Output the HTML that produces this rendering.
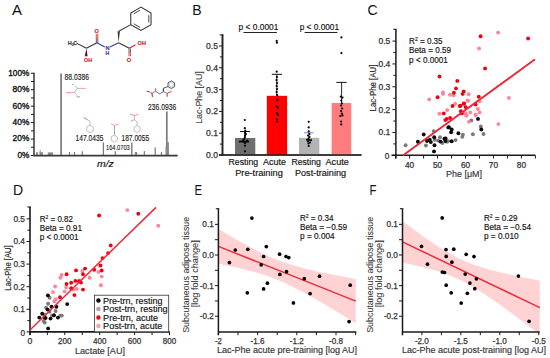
<!DOCTYPE html>
<html><head><meta charset="utf-8"><style>
html,body{margin:0;padding:0;background:#fff;width:550px;height:358px;overflow:hidden}
svg{display:block;font-family:"Liberation Sans", sans-serif}
</style></head><body>
<svg width="550" height="358" viewBox="0 0 550 358">
<rect width="550" height="358" fill="#fff"/>
<text x="12.00" y="15.00" font-size="15" text-anchor="start" fill="#111">A</text>
<text x="192.20" y="15.00" font-size="14" text-anchor="start" fill="#111">B</text>
<text x="367.50" y="15.00" font-size="14" text-anchor="start" fill="#111">C</text>
<text x="13.00" y="195.00" font-size="14" text-anchor="start" fill="#111">D</text>
<text x="194.50" y="195.00" font-size="14" text-anchor="start" fill="#111" textLength="7.6" lengthAdjust="spacingAndGlyphs">E</text>
<text x="369.50" y="195.00" font-size="14" text-anchor="start" fill="#111" textLength="7.0" lengthAdjust="spacingAndGlyphs">F</text>
<line x1="34.00" y1="72.80" x2="34.00" y2="156.10" stroke="#1a1a1a" stroke-width="1.3"/>
<line x1="30.80" y1="155.50" x2="34.00" y2="155.50" stroke="#1a1a1a" stroke-width="1.0"/>
<text x="29.40" y="157.90" font-size="8.6" text-anchor="end" fill="#111" stroke="#111" stroke-width="0.35" textLength="12.0" lengthAdjust="spacingAndGlyphs">0%</text>
<line x1="30.80" y1="139.05" x2="34.00" y2="139.05" stroke="#1a1a1a" stroke-width="1.0"/>
<text x="29.40" y="141.45" font-size="8.6" text-anchor="end" fill="#111" stroke="#111" stroke-width="0.35" textLength="16.8" lengthAdjust="spacingAndGlyphs">20%</text>
<line x1="30.80" y1="122.60" x2="34.00" y2="122.60" stroke="#1a1a1a" stroke-width="1.0"/>
<text x="29.40" y="125.00" font-size="8.6" text-anchor="end" fill="#111" stroke="#111" stroke-width="0.35" textLength="16.8" lengthAdjust="spacingAndGlyphs">40%</text>
<line x1="30.80" y1="106.15" x2="34.00" y2="106.15" stroke="#1a1a1a" stroke-width="1.0"/>
<text x="29.40" y="108.55" font-size="8.6" text-anchor="end" fill="#111" stroke="#111" stroke-width="0.35" textLength="16.8" lengthAdjust="spacingAndGlyphs">60%</text>
<line x1="30.80" y1="89.70" x2="34.00" y2="89.70" stroke="#1a1a1a" stroke-width="1.0"/>
<text x="29.40" y="92.10" font-size="8.6" text-anchor="end" fill="#111" stroke="#111" stroke-width="0.35" textLength="16.8" lengthAdjust="spacingAndGlyphs">80%</text>
<line x1="30.80" y1="73.25" x2="34.00" y2="73.25" stroke="#1a1a1a" stroke-width="1.0"/>
<text x="29.40" y="75.65" font-size="8.6" text-anchor="end" fill="#111" stroke="#111" stroke-width="0.35" textLength="21.2" lengthAdjust="spacingAndGlyphs">100%</text>
<line x1="31.00" y1="147.28" x2="34.00" y2="147.28" stroke="#1a1a1a" stroke-width="1.0"/>
<line x1="31.00" y1="130.82" x2="34.00" y2="130.82" stroke="#1a1a1a" stroke-width="1.0"/>
<line x1="31.00" y1="114.38" x2="34.00" y2="114.38" stroke="#1a1a1a" stroke-width="1.0"/>
<line x1="31.00" y1="97.93" x2="34.00" y2="97.93" stroke="#1a1a1a" stroke-width="1.0"/>
<line x1="31.00" y1="81.48" x2="34.00" y2="81.48" stroke="#1a1a1a" stroke-width="1.0"/>
<line x1="40.20" y1="155.50" x2="40.20" y2="150.00" stroke="#7a7a7a" stroke-width="0.9"/>
<line x1="61.10" y1="155.50" x2="61.10" y2="73.40" stroke="#7a7a7a" stroke-width="1.7"/>
<line x1="69.50" y1="155.50" x2="69.50" y2="152.00" stroke="#7a7a7a" stroke-width="1.2"/>
<line x1="74.50" y1="155.50" x2="74.50" y2="152.00" stroke="#7a7a7a" stroke-width="1.2"/>
<line x1="82.30" y1="155.50" x2="82.30" y2="151.20" stroke="#7a7a7a" stroke-width="1.2"/>
<line x1="103.40" y1="155.50" x2="103.40" y2="142.40" stroke="#7a7a7a" stroke-width="1.3"/>
<line x1="115.30" y1="155.50" x2="115.30" y2="151.30" stroke="#7a7a7a" stroke-width="1.2"/>
<line x1="131.80" y1="155.50" x2="131.80" y2="142.60" stroke="#7a7a7a" stroke-width="1.4"/>
<line x1="144.30" y1="155.50" x2="144.30" y2="151.10" stroke="#7a7a7a" stroke-width="1.2"/>
<line x1="155.20" y1="155.50" x2="155.20" y2="147.60" stroke="#7a7a7a" stroke-width="1.2"/>
<line x1="161.50" y1="155.50" x2="161.50" y2="152.20" stroke="#7a7a7a" stroke-width="1.2"/>
<line x1="166.80" y1="155.50" x2="166.80" y2="111.50" stroke="#7a7a7a" stroke-width="1.7"/>
<rect x="36.10" y="152.20" width="1.90" height="3.30" fill="#8a8a8a"/>
<rect x="39.60" y="152.20" width="3.30" height="3.30" fill="#8a8a8a"/>
<rect x="47.80" y="152.40" width="5.20" height="3.10" fill="#8a8a8a"/>
<rect x="134.80" y="152.00" width="2.40" height="3.50" fill="#8a8a8a"/>
<rect x="165.50" y="146.80" width="3.00" height="8.70" fill="#8a8a8a"/>
<rect x="166.80" y="142.20" width="2.10" height="13.30" fill="#8a8a8a"/>
<line x1="33.40" y1="155.70" x2="177.70" y2="155.70" stroke="#3a3a3a" stroke-width="1.7"/>
<text x="64.50" y="79.70" font-size="8.6" text-anchor="start" fill="#111" stroke="#111" stroke-width="0.12" textLength="24.4" lengthAdjust="spacingAndGlyphs">88.0386</text>
<text x="75.50" y="140.80" font-size="8.6" text-anchor="start" fill="#111" stroke="#111" stroke-width="0.12" textLength="28.0" lengthAdjust="spacingAndGlyphs">147.0435</text>
<text x="106.00" y="150.30" font-size="7.8" text-anchor="start" fill="#111" stroke="#111" stroke-width="0.1" textLength="23.8" lengthAdjust="spacingAndGlyphs">164.0703</text>
<text x="121.50" y="141.20" font-size="8.6" text-anchor="start" fill="#111" stroke="#111" stroke-width="0.12" textLength="27.6" lengthAdjust="spacingAndGlyphs">187.0055</text>
<text x="148.00" y="109.60" font-size="8.6" text-anchor="start" fill="#111" stroke="#111" stroke-width="0.12" textLength="28.2" lengthAdjust="spacingAndGlyphs">236.0936</text>
<text x="97.00" y="166.60" font-size="9.2" text-anchor="start" fill="#111" stroke="#111" stroke-width="0.15" font-style="italic" textLength="16.8" lengthAdjust="spacingAndGlyphs">m/z</text>
<line x1="72.00" y1="84.40" x2="73.80" y2="84.40" stroke="#a8a8a8" stroke-width="1.0"/>
<line x1="75.10" y1="85.40" x2="77.40" y2="88.40" stroke="#a8a8a8" stroke-width="0.8"/>
<line x1="77.40" y1="88.40" x2="80.20" y2="88.40" stroke="#a8a8a8" stroke-width="0.8"/>
<line x1="80.20" y1="88.40" x2="85.80" y2="88.40" stroke="#f49a9a" stroke-width="1.0"/>
<line x1="77.40" y1="88.40" x2="74.40" y2="92.40" stroke="#a8a8a8" stroke-width="0.8"/>
<line x1="74.40" y1="92.40" x2="72.00" y2="92.60" stroke="#a8a8a8" stroke-width="0.8"/>
<line x1="66.00" y1="92.60" x2="72.00" y2="92.60" stroke="#f49a9a" stroke-width="1.1"/>
<line x1="74.40" y1="92.40" x2="77.00" y2="95.60" stroke="#a8a8a8" stroke-width="0.8"/>
<line x1="76.40" y1="96.80" x2="80.00" y2="96.80" stroke="#a0a8dc" stroke-width="1.1"/>
<path d="M90.00,125.20 L86.71,127.10 L86.71,130.90 L90.00,132.80 L93.29,130.90 L93.29,127.10 Z" fill="none" stroke="#a8a8a8" stroke-width="0.7"/>
<line x1="90.00" y1="125.20" x2="90.00" y2="121.40" stroke="#a8a8a8" stroke-width="0.8"/>
<line x1="90.00" y1="121.40" x2="87.40" y2="119.70" stroke="#a8a8a8" stroke-width="0.8"/>
<line x1="87.40" y1="119.70" x2="83.70" y2="117.40" stroke="#a0a8dc" stroke-width="1.2"/>
<path d="M114.30,135.10 L111.27,136.85 L111.27,140.35 L114.30,142.10 L117.33,140.35 L117.33,136.85 Z" fill="none" stroke="#a8a8a8" stroke-width="0.7"/>
<line x1="114.50" y1="135.10" x2="114.50" y2="125.60" stroke="#a8a8a8" stroke-width="1.1"/>
<line x1="114.50" y1="125.50" x2="111.00" y2="123.90" stroke="#f49a9a" stroke-width="1.0"/>
<line x1="114.50" y1="125.50" x2="118.50" y2="123.90" stroke="#f49a9a" stroke-width="1.0"/>
<path d="M137.10,125.60 L134.07,127.35 L134.07,130.85 L137.10,132.60 L140.13,130.85 L140.13,127.35 Z" fill="none" stroke="#a8a8a8" stroke-width="0.7"/>
<line x1="137.10" y1="125.60" x2="137.10" y2="122.10" stroke="#a8a8a8" stroke-width="0.8"/>
<line x1="137.10" y1="122.10" x2="134.40" y2="119.70" stroke="#a8a8a8" stroke-width="0.8"/>
<line x1="134.40" y1="119.70" x2="130.90" y2="121.30" stroke="#a0a8dc" stroke-width="1.0"/>
<line x1="134.40" y1="119.70" x2="134.40" y2="115.80" stroke="#a8a8a8" stroke-width="0.8"/>
<line x1="134.40" y1="115.80" x2="130.10" y2="113.90" stroke="#f49a9a" stroke-width="1.1"/>
<line x1="134.40" y1="115.80" x2="138.30" y2="113.90" stroke="#f49a9a" stroke-width="1.1"/>
<path d="M171.30,80.90 L168.01,82.80 L168.01,86.60 L171.30,88.50 L174.59,86.60 L174.59,82.80 Z" fill="none" stroke="#444" stroke-width="0.9"/>
<path d="M171.30,82.40 L169.31,83.55 L169.31,85.85 L171.30,87.00 L173.29,85.85 L173.29,83.55 Z" fill="none" stroke="#999" stroke-width="0.5"/>
<line x1="146.50" y1="91.20" x2="149.40" y2="91.70" stroke="#555" stroke-width="1.0"/>
<line x1="149.40" y1="91.70" x2="151.90" y2="93.00" stroke="#666" stroke-width="0.8"/>
<line x1="151.90" y1="93.00" x2="152.50" y2="96.80" stroke="#d03030" stroke-width="1.2"/>
<line x1="151.90" y1="93.00" x2="155.70" y2="91.40" stroke="#777" stroke-width="0.8"/>
<line x1="155.70" y1="91.40" x2="155.70" y2="88.30" stroke="#d04040" stroke-width="1.0"/>
<line x1="155.70" y1="91.40" x2="159.50" y2="93.90" stroke="#5060b0" stroke-width="0.9"/>
<line x1="159.50" y1="93.90" x2="163.40" y2="91.70" stroke="#5060b0" stroke-width="0.9"/>
<line x1="163.40" y1="91.70" x2="163.40" y2="88.20" stroke="#333" stroke-width="1.1"/>
<line x1="163.40" y1="88.20" x2="168.00" y2="86.60" stroke="#444" stroke-width="0.9"/>
<line x1="163.40" y1="91.70" x2="167.20" y2="93.30" stroke="#666" stroke-width="0.8"/>
<line x1="167.20" y1="93.30" x2="167.20" y2="96.80" stroke="#d04040" stroke-width="1.1"/>
<line x1="167.20" y1="93.30" x2="171.50" y2="91.40" stroke="#d04040" stroke-width="1.0"/>
<path d="M140.90,7.10 L130.77,12.95 L130.77,24.65 L140.90,30.50 L151.03,24.65 L151.03,12.95 Z" fill="none" stroke="#333" stroke-width="1.05"/>
<line x1="140.11" y1="10.13" x2="133.79" y2="13.78" stroke="#333" stroke-width="0.9"/>
<line x1="133.79" y1="23.82" x2="140.11" y2="27.47" stroke="#333" stroke-width="0.9"/>
<line x1="148.80" y1="22.45" x2="148.80" y2="15.15" stroke="#333" stroke-width="0.9"/>
<line x1="130.77" y1="24.65" x2="118.80" y2="31.20" stroke="#333" stroke-width="1.05"/>
<path d="M118.5,42.6 L117.6,31.2 L119.9,31.2 Z" fill="#333"/>
<line x1="118.50" y1="42.70" x2="129.30" y2="48.30" stroke="#333" stroke-width="1.05"/>
<line x1="129.00" y1="48.50" x2="129.00" y2="52.50" stroke="#333" stroke-width="0.8"/>
<line x1="130.40" y1="48.50" x2="130.40" y2="52.50" stroke="#333" stroke-width="0.8"/>
<line x1="129.00" y1="52.30" x2="129.00" y2="56.20" stroke="#e0141e" stroke-width="0.8"/>
<line x1="130.40" y1="52.30" x2="130.40" y2="56.20" stroke="#e0141e" stroke-width="0.8"/>
<line x1="129.30" y1="48.30" x2="135.50" y2="44.80" stroke="#e0141e" stroke-width="1.05"/>
<text x="137.60" y="45.30" font-size="5.6" text-anchor="start" fill="#e0141e" stroke="#e0141e" stroke-width="0.15" font-weight="bold" textLength="8.4" lengthAdjust="spacingAndGlyphs">OH</text>
<text x="126.80" y="61.60" font-size="5.6" text-anchor="start" fill="#e0141e" stroke="#e0141e" stroke-width="0.15" font-weight="bold">O</text>
<line x1="118.50" y1="42.70" x2="110.00" y2="47.00" stroke="#3a3aa0" stroke-width="1.05"/>
<text x="105.40" y="50.30" font-size="5.6" text-anchor="start" fill="#3a3aa0" stroke="#3a3aa0" stroke-width="0.15" font-weight="bold">N</text>
<text x="105.60" y="55.20" font-size="5.2" text-anchor="start" fill="#3a3aa0" stroke="#3a3aa0" stroke-width="0.15" font-weight="bold">H</text>
<line x1="104.80" y1="47.00" x2="97.00" y2="42.70" stroke="#3a3aa0" stroke-width="1.05"/>
<line x1="96.30" y1="42.70" x2="96.30" y2="38.20" stroke="#333" stroke-width="0.8"/>
<line x1="97.80" y1="42.70" x2="97.80" y2="38.20" stroke="#333" stroke-width="0.8"/>
<line x1="96.30" y1="38.40" x2="96.30" y2="33.80" stroke="#e0141e" stroke-width="0.8"/>
<line x1="97.80" y1="38.40" x2="97.80" y2="33.80" stroke="#e0141e" stroke-width="0.8"/>
<text x="94.50" y="33.20" font-size="5.6" text-anchor="start" fill="#e0141e" stroke="#e0141e" stroke-width="0.15" font-weight="bold">O</text>
<line x1="97.00" y1="42.70" x2="86.40" y2="48.30" stroke="#333" stroke-width="1.05"/>
<line x1="86.40" y1="48.30" x2="77.00" y2="43.40" stroke="#333" stroke-width="1.05"/>
<text x="67.80" y="45.20" font-size="5.6" text-anchor="start" fill="#333" stroke="#333" stroke-width="0.15" font-weight="bold">H</text>
<text x="71.70" y="46.40" font-size="3.8" text-anchor="start" fill="#333" stroke="#333" stroke-width="0.15" font-weight="bold">3</text>
<text x="73.30" y="45.20" font-size="5.6" text-anchor="start" fill="#333" stroke="#333" stroke-width="0.15" font-weight="bold">C</text>
<path d="M86.4,48.3 L84.8,56.3 L87.6,56.3 Z" fill="#800010"/>
<text x="84.00" y="61.60" font-size="5.6" text-anchor="start" fill="#e0141e" stroke="#e0141e" stroke-width="0.15" font-weight="bold" textLength="8.0" lengthAdjust="spacingAndGlyphs">OH</text>
<line x1="222.50" y1="34.70" x2="222.50" y2="155.60" stroke="#1a1a1a" stroke-width="1.2"/>
<line x1="221.90" y1="155.00" x2="361.50" y2="155.00" stroke="#1a1a1a" stroke-width="1.2"/>
<line x1="219.00" y1="155.00" x2="222.50" y2="155.00" stroke="#1a1a1a" stroke-width="1.0"/>
<text x="218.00" y="157.90" font-size="8.2" text-anchor="end" fill="#333" stroke="#333" stroke-width="0.25" textLength="12.0" lengthAdjust="spacingAndGlyphs">0.0</text>
<line x1="219.00" y1="133.20" x2="222.50" y2="133.20" stroke="#1a1a1a" stroke-width="1.0"/>
<text x="218.00" y="136.10" font-size="8.2" text-anchor="end" fill="#333" stroke="#333" stroke-width="0.25" textLength="12.0" lengthAdjust="spacingAndGlyphs">0.1</text>
<line x1="219.00" y1="111.40" x2="222.50" y2="111.40" stroke="#1a1a1a" stroke-width="1.0"/>
<text x="218.00" y="114.30" font-size="8.2" text-anchor="end" fill="#333" stroke="#333" stroke-width="0.25" textLength="12.0" lengthAdjust="spacingAndGlyphs">0.2</text>
<line x1="219.00" y1="89.60" x2="222.50" y2="89.60" stroke="#1a1a1a" stroke-width="1.0"/>
<text x="218.00" y="92.50" font-size="8.2" text-anchor="end" fill="#333" stroke="#333" stroke-width="0.25" textLength="12.0" lengthAdjust="spacingAndGlyphs">0.3</text>
<line x1="219.00" y1="67.80" x2="222.50" y2="67.80" stroke="#1a1a1a" stroke-width="1.0"/>
<text x="218.00" y="70.70" font-size="8.2" text-anchor="end" fill="#333" stroke="#333" stroke-width="0.25" textLength="12.0" lengthAdjust="spacingAndGlyphs">0.4</text>
<line x1="219.00" y1="46.00" x2="222.50" y2="46.00" stroke="#1a1a1a" stroke-width="1.0"/>
<text x="218.00" y="48.90" font-size="8.2" text-anchor="end" fill="#333" stroke="#333" stroke-width="0.25" textLength="12.0" lengthAdjust="spacingAndGlyphs">0.5</text>
<line x1="219.90" y1="144.10" x2="222.50" y2="144.10" stroke="#1a1a1a" stroke-width="1.0"/>
<line x1="219.90" y1="122.30" x2="222.50" y2="122.30" stroke="#1a1a1a" stroke-width="1.0"/>
<line x1="219.90" y1="100.50" x2="222.50" y2="100.50" stroke="#1a1a1a" stroke-width="1.0"/>
<line x1="219.90" y1="78.70" x2="222.50" y2="78.70" stroke="#1a1a1a" stroke-width="1.0"/>
<line x1="219.90" y1="56.90" x2="222.50" y2="56.90" stroke="#1a1a1a" stroke-width="1.0"/>
<text x="0.00" y="0.00" font-size="1" text-anchor="start" fill="#222" stroke="#222" stroke-width="0.15"></text>
<rect x="235.00" y="138.00" width="20.30" height="17.00" fill="#6e6e6e"/>
<rect x="266.80" y="95.80" width="20.30" height="59.20" fill="#ff0000"/>
<rect x="299.00" y="137.80" width="20.30" height="17.20" fill="#b3b3b3"/>
<rect x="331.60" y="103.00" width="19.60" height="52.00" fill="#ff7d7d"/>
<line x1="222.50" y1="34.70" x2="222.50" y2="155.80" stroke="#222" stroke-width="1.8"/>
<line x1="219.70" y1="34.90" x2="223.40" y2="34.90" stroke="#222" stroke-width="1.1"/>
<line x1="219.00" y1="155.00" x2="361.50" y2="155.00" stroke="#222" stroke-width="1.4"/>
<line x1="245.00" y1="131.50" x2="245.00" y2="138.00" stroke="#111" stroke-width="0.9"/>
<line x1="240.00" y1="131.50" x2="250.10" y2="131.50" stroke="#111" stroke-width="1.0"/>
<line x1="276.80" y1="74.30" x2="276.80" y2="95.80" stroke="#111" stroke-width="0.9"/>
<line x1="271.80" y1="74.30" x2="282.00" y2="74.30" stroke="#111" stroke-width="1.0"/>
<line x1="309.00" y1="132.80" x2="309.00" y2="137.80" stroke="#111" stroke-width="0.9"/>
<line x1="304.00" y1="132.80" x2="313.60" y2="132.80" stroke="#6a8fd0" stroke-width="1.0"/>
<line x1="341.60" y1="82.40" x2="341.60" y2="103.00" stroke="#111" stroke-width="0.9"/>
<line x1="336.40" y1="82.40" x2="346.60" y2="82.40" stroke="#111" stroke-width="1.0"/>
<circle cx="244.80" cy="120.00" r="1.1" fill="#000"/>
<circle cx="244.80" cy="128.20" r="1.1" fill="#000"/>
<circle cx="245.30" cy="130.60" r="1.1" fill="#000"/>
<circle cx="245.00" cy="132.90" r="1.1" fill="#000"/>
<circle cx="245.80" cy="134.20" r="1.1" fill="#000"/>
<circle cx="245.00" cy="135.70" r="1.1" fill="#000"/>
<circle cx="244.80" cy="137.30" r="1.1" fill="#000"/>
<circle cx="244.30" cy="139.00" r="1.1" fill="#000"/>
<circle cx="243.30" cy="140.10" r="1.1" fill="#000"/>
<circle cx="247.20" cy="140.50" r="1.1" fill="#000"/>
<circle cx="240.00" cy="141.60" r="1.1" fill="#000"/>
<circle cx="242.00" cy="141.60" r="1.1" fill="#000"/>
<circle cx="244.00" cy="141.80" r="1.1" fill="#000"/>
<circle cx="246.00" cy="141.60" r="1.1" fill="#000"/>
<circle cx="248.00" cy="141.70" r="1.1" fill="#000"/>
<circle cx="245.00" cy="142.90" r="1.1" fill="#000"/>
<circle cx="245.00" cy="145.70" r="1.1" fill="#000"/>
<circle cx="245.00" cy="151.30" r="1.1" fill="#000"/>
<circle cx="276.70" cy="40.80" r="1.1" fill="#000"/>
<circle cx="276.90" cy="42.70" r="1.1" fill="#000"/>
<circle cx="276.70" cy="71.70" r="1.1" fill="#000"/>
<circle cx="276.90" cy="77.00" r="1.1" fill="#000"/>
<circle cx="276.50" cy="80.00" r="1.1" fill="#000"/>
<circle cx="277.00" cy="83.00" r="1.1" fill="#000"/>
<circle cx="276.70" cy="86.00" r="1.1" fill="#000"/>
<circle cx="277.00" cy="89.00" r="1.1" fill="#000"/>
<circle cx="276.60" cy="92.00" r="1.1" fill="#000"/>
<circle cx="277.20" cy="95.00" r="1.1" fill="#000"/>
<circle cx="277.40" cy="100.20" r="1.1" fill="#000"/>
<circle cx="276.20" cy="106.00" r="1.1" fill="#000"/>
<circle cx="277.90" cy="107.70" r="1.1" fill="#000"/>
<circle cx="277.10" cy="113.40" r="1.1" fill="#000"/>
<circle cx="278.10" cy="115.10" r="1.1" fill="#000"/>
<circle cx="277.10" cy="119.60" r="1.1" fill="#000"/>
<circle cx="277.10" cy="121.50" r="1.1" fill="#000"/>
<circle cx="308.70" cy="121.80" r="1.1" fill="#000"/>
<circle cx="308.70" cy="127.40" r="1.1" fill="#000"/>
<circle cx="308.70" cy="131.40" r="1.1" fill="#000"/>
<circle cx="309.50" cy="134.00" r="1.1" fill="#000"/>
<circle cx="308.00" cy="135.50" r="1.1" fill="#000"/>
<circle cx="309.50" cy="137.00" r="1.1" fill="#000"/>
<circle cx="308.50" cy="138.50" r="1.1" fill="#000"/>
<circle cx="307.00" cy="139.80" r="1.1" fill="#000"/>
<circle cx="309.00" cy="140.00" r="1.1" fill="#000"/>
<circle cx="311.00" cy="140.20" r="1.1" fill="#000"/>
<circle cx="308.00" cy="141.50" r="1.1" fill="#000"/>
<circle cx="310.00" cy="142.50" r="1.1" fill="#000"/>
<circle cx="308.50" cy="143.50" r="1.1" fill="#000"/>
<circle cx="308.70" cy="145.90" r="1.1" fill="#000"/>
<circle cx="341.40" cy="37.40" r="1.1" fill="#000"/>
<circle cx="341.40" cy="53.10" r="1.1" fill="#000"/>
<circle cx="340.80" cy="96.60" r="1.1" fill="#000"/>
<circle cx="342.50" cy="97.60" r="1.1" fill="#000"/>
<circle cx="341.30" cy="100.50" r="1.1" fill="#000"/>
<circle cx="341.80" cy="103.40" r="1.1" fill="#000"/>
<circle cx="341.10" cy="105.60" r="1.1" fill="#000"/>
<circle cx="342.20" cy="108.50" r="1.1" fill="#000"/>
<circle cx="341.10" cy="111.00" r="1.1" fill="#000"/>
<circle cx="341.80" cy="113.50" r="1.1" fill="#000"/>
<circle cx="342.50" cy="115.40" r="1.1" fill="#000"/>
<circle cx="340.30" cy="116.00" r="1.1" fill="#000"/>
<circle cx="341.10" cy="121.50" r="1.1" fill="#000"/>
<circle cx="341.30" cy="124.40" r="1.1" fill="#000"/>
<text x="228.60" y="165.00" font-size="8.3" text-anchor="start" fill="#111" stroke="#111" stroke-width="0.15" textLength="29.5" lengthAdjust="spacingAndGlyphs">Resting</text>
<text x="263.10" y="165.00" font-size="8.3" text-anchor="start" fill="#111" stroke="#111" stroke-width="0.15" textLength="23.0" lengthAdjust="spacingAndGlyphs">Acute</text>
<text x="291.40" y="165.00" font-size="8.3" text-anchor="start" fill="#111" stroke="#111" stroke-width="0.15" textLength="29.5" lengthAdjust="spacingAndGlyphs">Resting</text>
<text x="325.50" y="165.00" font-size="8.3" text-anchor="start" fill="#111" stroke="#111" stroke-width="0.15" textLength="23.3" lengthAdjust="spacingAndGlyphs">Acute</text>
<text x="235.20" y="175.60" font-size="8.3" text-anchor="start" fill="#111" stroke="#111" stroke-width="0.15" textLength="47.6" lengthAdjust="spacingAndGlyphs">Pre-training</text>
<text x="295.00" y="175.60" font-size="8.3" text-anchor="start" fill="#111" stroke="#111" stroke-width="0.15" textLength="51.0" lengthAdjust="spacingAndGlyphs">Post-training</text>
<text x="238.60" y="29.80" font-size="8.3" text-anchor="start" fill="#111" stroke="#111" stroke-width="0.15" textLength="39.8" lengthAdjust="spacingAndGlyphs">p &lt; 0.0001</text>
<text x="299.70" y="29.80" font-size="8.3" text-anchor="start" fill="#111" stroke="#111" stroke-width="0.15" textLength="39.4" lengthAdjust="spacingAndGlyphs">p &lt; 0.0001</text>
<line x1="243.50" y1="32.50" x2="276.90" y2="32.50" stroke="#222" stroke-width="1.0"/>
<line x1="304.60" y1="32.50" x2="337.40" y2="32.50" stroke="#222" stroke-width="1.0"/>
<text x="0" y="0" font-size="8.2" fill="#4a4a4a" stroke="#4a4a4a" stroke-width="0.12" transform="translate(201.9,97.5) rotate(-90)" text-anchor="middle" textLength="52.6" lengthAdjust="spacingAndGlyphs">Lac-Phe [AU]</text>
<line x1="395.90" y1="29.30" x2="395.90" y2="158.50" stroke="#1a1a1a" stroke-width="1.5"/>
<line x1="393.30" y1="29.30" x2="396.60" y2="29.30" stroke="#1a1a1a" stroke-width="1.1"/>
<line x1="391.50" y1="155.30" x2="535.30" y2="155.30" stroke="#1a1a1a" stroke-width="1.5"/>
<line x1="392.40" y1="155.30" x2="395.90" y2="155.30" stroke="#1a1a1a" stroke-width="1.0"/>
<text x="389.30" y="158.90" font-size="8.2" text-anchor="end" fill="#333" stroke="#333" stroke-width="0.25" textLength="4.6" lengthAdjust="spacingAndGlyphs">0</text>
<line x1="392.40" y1="132.46" x2="395.90" y2="132.46" stroke="#1a1a1a" stroke-width="1.0"/>
<text x="390.30" y="135.36" font-size="8.2" text-anchor="end" fill="#333" stroke="#333" stroke-width="0.25" textLength="11.8" lengthAdjust="spacingAndGlyphs">0.1</text>
<line x1="392.40" y1="109.62" x2="395.90" y2="109.62" stroke="#1a1a1a" stroke-width="1.0"/>
<text x="390.30" y="112.52" font-size="8.2" text-anchor="end" fill="#333" stroke="#333" stroke-width="0.25" textLength="11.8" lengthAdjust="spacingAndGlyphs">0.2</text>
<line x1="392.40" y1="86.78" x2="395.90" y2="86.78" stroke="#1a1a1a" stroke-width="1.0"/>
<text x="390.30" y="89.68" font-size="8.2" text-anchor="end" fill="#333" stroke="#333" stroke-width="0.25" textLength="11.8" lengthAdjust="spacingAndGlyphs">0.3</text>
<line x1="392.40" y1="63.94" x2="395.90" y2="63.94" stroke="#1a1a1a" stroke-width="1.0"/>
<text x="390.30" y="66.84" font-size="8.2" text-anchor="end" fill="#333" stroke="#333" stroke-width="0.25" textLength="11.8" lengthAdjust="spacingAndGlyphs">0.4</text>
<line x1="392.40" y1="41.10" x2="395.90" y2="41.10" stroke="#1a1a1a" stroke-width="1.0"/>
<text x="390.30" y="44.00" font-size="8.2" text-anchor="end" fill="#333" stroke="#333" stroke-width="0.25" textLength="11.8" lengthAdjust="spacingAndGlyphs">0.5</text>
<line x1="393.30" y1="143.88" x2="395.90" y2="143.88" stroke="#1a1a1a" stroke-width="1.0"/>
<line x1="393.30" y1="121.04" x2="395.90" y2="121.04" stroke="#1a1a1a" stroke-width="1.0"/>
<line x1="393.30" y1="98.20" x2="395.90" y2="98.20" stroke="#1a1a1a" stroke-width="1.0"/>
<line x1="393.30" y1="75.36" x2="395.90" y2="75.36" stroke="#1a1a1a" stroke-width="1.0"/>
<line x1="393.30" y1="52.52" x2="395.90" y2="52.52" stroke="#1a1a1a" stroke-width="1.0"/>
<line x1="395.62" y1="155.30" x2="395.62" y2="158.50" stroke="#1a1a1a" stroke-width="1.0"/>
<line x1="409.60" y1="155.30" x2="409.60" y2="158.50" stroke="#1a1a1a" stroke-width="1.0"/>
<text x="409.60" y="168.00" font-size="8.2" text-anchor="middle" fill="#333" stroke="#333" stroke-width="0.25" textLength="9.2" lengthAdjust="spacingAndGlyphs">40</text>
<line x1="423.58" y1="155.30" x2="423.58" y2="158.50" stroke="#1a1a1a" stroke-width="1.0"/>
<line x1="437.55" y1="155.30" x2="437.55" y2="158.50" stroke="#1a1a1a" stroke-width="1.0"/>
<text x="437.55" y="168.00" font-size="8.2" text-anchor="middle" fill="#333" stroke="#333" stroke-width="0.25" textLength="9.2" lengthAdjust="spacingAndGlyphs">50</text>
<line x1="451.53" y1="155.30" x2="451.53" y2="158.50" stroke="#1a1a1a" stroke-width="1.0"/>
<line x1="465.50" y1="155.30" x2="465.50" y2="158.50" stroke="#1a1a1a" stroke-width="1.0"/>
<text x="465.50" y="168.00" font-size="8.2" text-anchor="middle" fill="#333" stroke="#333" stroke-width="0.25" textLength="9.2" lengthAdjust="spacingAndGlyphs">60</text>
<line x1="479.48" y1="155.30" x2="479.48" y2="158.50" stroke="#1a1a1a" stroke-width="1.0"/>
<line x1="493.45" y1="155.30" x2="493.45" y2="158.50" stroke="#1a1a1a" stroke-width="1.0"/>
<text x="493.45" y="168.00" font-size="8.2" text-anchor="middle" fill="#333" stroke="#333" stroke-width="0.25" textLength="9.2" lengthAdjust="spacingAndGlyphs">70</text>
<line x1="507.43" y1="155.30" x2="507.43" y2="158.50" stroke="#1a1a1a" stroke-width="1.0"/>
<line x1="521.40" y1="155.30" x2="521.40" y2="158.50" stroke="#1a1a1a" stroke-width="1.0"/>
<text x="521.40" y="168.00" font-size="8.2" text-anchor="middle" fill="#333" stroke="#333" stroke-width="0.25" textLength="9.2" lengthAdjust="spacingAndGlyphs">80</text>
<line x1="535.38" y1="155.30" x2="535.38" y2="158.50" stroke="#1a1a1a" stroke-width="1.0"/>
<text x="446.00" y="177.40" font-size="8.9" text-anchor="start" fill="#333" stroke="#333" stroke-width="0.15" textLength="36.0" lengthAdjust="spacingAndGlyphs">Phe [μM]</text>
<text x="0" y="0" font-size="8.3" fill="#222" stroke="#222" stroke-width="0.15" transform="translate(375.6,88) rotate(-90)" text-anchor="middle" textLength="46.9" lengthAdjust="spacingAndGlyphs">Lac-Phe [AU]</text>
<text x="409.10" y="43.60" font-size="8.3" text-anchor="start" fill="#111" stroke="#111" stroke-width="0.15" textLength="33.5" lengthAdjust="spacingAndGlyphs">R<tspan dy="-2.8" font-size="5.2">2</tspan><tspan dy="2.8"> = 0.35</tspan></text>
<text x="409.10" y="52.90" font-size="8.3" text-anchor="start" fill="#111" stroke="#111" stroke-width="0.15" textLength="42.0" lengthAdjust="spacingAndGlyphs">Beta = 0.59</text>
<text x="409.10" y="62.50" font-size="8.3" text-anchor="start" fill="#111" stroke="#111" stroke-width="0.15" textLength="38.8" lengthAdjust="spacingAndGlyphs">p &lt; 0.0001</text>
<line x1="403.00" y1="155.30" x2="534.90" y2="59.40" stroke="#ee2a3a" stroke-width="1.5"/>
<circle cx="433.70" cy="131.10" r="1.95" fill="#7a7a7a"/>
<circle cx="434.70" cy="139.70" r="1.95" fill="#7a7a7a"/>
<circle cx="425.90" cy="145.50" r="1.95" fill="#7a7a7a"/>
<circle cx="440.00" cy="137.20" r="1.95" fill="#7a7a7a"/>
<circle cx="438.10" cy="140.60" r="1.95" fill="#7a7a7a"/>
<circle cx="442.50" cy="143.10" r="1.95" fill="#7a7a7a"/>
<circle cx="448.30" cy="141.10" r="1.95" fill="#7a7a7a"/>
<circle cx="405.60" cy="145.20" r="1.95" fill="#7a7a7a"/>
<circle cx="471.30" cy="120.40" r="1.95" fill="#7a7a7a"/>
<circle cx="480.80" cy="126.50" r="1.95" fill="#7a7a7a"/>
<circle cx="483.50" cy="134.00" r="1.95" fill="#7a7a7a"/>
<circle cx="462.90" cy="134.60" r="1.95" fill="#7a7a7a"/>
<circle cx="462.30" cy="136.80" r="1.95" fill="#7a7a7a"/>
<circle cx="472.90" cy="134.20" r="1.95" fill="#7a7a7a"/>
<circle cx="447.00" cy="141.80" r="1.95" fill="#7a7a7a"/>
<circle cx="455.60" cy="140.10" r="1.95" fill="#7a7a7a"/>
<circle cx="423.70" cy="134.50" r="1.95" fill="#0a0a0a"/>
<circle cx="434.20" cy="137.20" r="1.95" fill="#0a0a0a"/>
<circle cx="429.80" cy="139.70" r="1.95" fill="#0a0a0a"/>
<circle cx="430.80" cy="142.10" r="1.95" fill="#0a0a0a"/>
<circle cx="434.50" cy="145.30" r="1.95" fill="#0a0a0a"/>
<circle cx="434.00" cy="151.40" r="1.95" fill="#0a0a0a"/>
<circle cx="440.50" cy="141.60" r="1.95" fill="#0a0a0a"/>
<circle cx="444.40" cy="138.70" r="1.95" fill="#0a0a0a"/>
<circle cx="445.40" cy="141.10" r="1.95" fill="#0a0a0a"/>
<circle cx="448.30" cy="127.40" r="1.95" fill="#0a0a0a"/>
<circle cx="417.90" cy="141.80" r="1.95" fill="#0a0a0a"/>
<circle cx="448.90" cy="127.30" r="1.95" fill="#0a0a0a"/>
<circle cx="451.70" cy="129.50" r="1.95" fill="#0a0a0a"/>
<circle cx="451.10" cy="132.30" r="1.95" fill="#0a0a0a"/>
<circle cx="458.40" cy="133.20" r="1.95" fill="#0a0a0a"/>
<circle cx="445.60" cy="138.50" r="1.95" fill="#0a0a0a"/>
<circle cx="451.70" cy="141.30" r="1.95" fill="#0a0a0a"/>
<circle cx="478.00" cy="118.90" r="1.95" fill="#0a0a0a"/>
<circle cx="481.30" cy="129.50" r="1.95" fill="#0a0a0a"/>
<circle cx="427.00" cy="141.00" r="1.95" fill="#0a0a0a"/>
<circle cx="498.10" cy="32.60" r="1.95" fill="#ff8498"/>
<circle cx="479.10" cy="48.50" r="1.95" fill="#ff8498"/>
<circle cx="443.00" cy="92.50" r="1.95" fill="#ff8498"/>
<circle cx="443.00" cy="93.90" r="1.95" fill="#ff8498"/>
<circle cx="450.00" cy="94.70" r="1.95" fill="#ff8498"/>
<circle cx="453.50" cy="95.20" r="1.95" fill="#ff8498"/>
<circle cx="429.20" cy="99.40" r="1.95" fill="#ff8498"/>
<circle cx="447.20" cy="110.10" r="1.95" fill="#ff8498"/>
<circle cx="439.40" cy="113.80" r="1.95" fill="#ff8498"/>
<circle cx="455.20" cy="103.80" r="1.95" fill="#ff8498"/>
<circle cx="465.60" cy="113.40" r="1.95" fill="#ff8498"/>
<circle cx="466.50" cy="115.50" r="1.95" fill="#ff8498"/>
<circle cx="468.20" cy="100.80" r="1.95" fill="#ff8498"/>
<circle cx="469.00" cy="121.80" r="1.95" fill="#ff8498"/>
<circle cx="468.70" cy="94.20" r="1.95" fill="#ff8498"/>
<circle cx="479.60" cy="101.20" r="1.95" fill="#ff8498"/>
<circle cx="467.60" cy="100.60" r="1.95" fill="#ff8498"/>
<circle cx="470.30" cy="112.40" r="1.95" fill="#ff8498"/>
<circle cx="477.90" cy="109.00" r="1.95" fill="#ff8498"/>
<circle cx="479.60" cy="112.40" r="1.95" fill="#ff8498"/>
<circle cx="475.60" cy="114.60" r="1.95" fill="#ff8498"/>
<circle cx="466.20" cy="115.60" r="1.95" fill="#ff8498"/>
<circle cx="475.70" cy="115.60" r="1.95" fill="#ff8498"/>
<circle cx="508.90" cy="97.90" r="1.95" fill="#ff8498"/>
<circle cx="498.40" cy="124.10" r="1.95" fill="#ff8498"/>
<circle cx="528.10" cy="38.50" r="1.95" fill="#f00012"/>
<circle cx="480.60" cy="36.20" r="1.95" fill="#f00012"/>
<circle cx="485.10" cy="68.40" r="1.95" fill="#f00012"/>
<circle cx="439.50" cy="76.50" r="1.95" fill="#f00012"/>
<circle cx="457.30" cy="80.90" r="1.95" fill="#f00012"/>
<circle cx="456.00" cy="88.40" r="1.95" fill="#f00012"/>
<circle cx="453.90" cy="92.80" r="1.95" fill="#f00012"/>
<circle cx="462.70" cy="93.90" r="1.95" fill="#f00012"/>
<circle cx="463.70" cy="91.40" r="1.95" fill="#f00012"/>
<circle cx="437.60" cy="97.30" r="1.95" fill="#f00012"/>
<circle cx="443.80" cy="113.40" r="1.95" fill="#f00012"/>
<circle cx="445.30" cy="120.10" r="1.95" fill="#f00012"/>
<circle cx="450.10" cy="118.00" r="1.95" fill="#f00012"/>
<circle cx="452.50" cy="106.00" r="1.95" fill="#f00012"/>
<circle cx="459.80" cy="106.00" r="1.95" fill="#f00012"/>
<circle cx="464.00" cy="103.80" r="1.95" fill="#f00012"/>
<circle cx="465.60" cy="107.10" r="1.95" fill="#f00012"/>
<circle cx="460.90" cy="111.30" r="1.95" fill="#f00012"/>
<circle cx="461.90" cy="113.40" r="1.95" fill="#f00012"/>
<circle cx="478.80" cy="96.70" r="1.95" fill="#f00012"/>
<circle cx="463.90" cy="103.40" r="1.95" fill="#f00012"/>
<circle cx="460.60" cy="105.70" r="1.95" fill="#f00012"/>
<circle cx="475.60" cy="104.60" r="1.95" fill="#f00012"/>
<circle cx="446.70" cy="118.90" r="1.95" fill="#f00012"/>
<line x1="403.00" y1="155.30" x2="534.90" y2="59.40" stroke="#ee2a3a" stroke-width="1.5"/>
<line x1="30.00" y1="206.80" x2="30.00" y2="335.10" stroke="#1a1a1a" stroke-width="1.6"/>
<line x1="27.40" y1="207.00" x2="30.80" y2="207.00" stroke="#1a1a1a" stroke-width="1.1"/>
<line x1="30.00" y1="331.90" x2="169.60" y2="331.90" stroke="#1a1a1a" stroke-width="1.6"/>
<line x1="26.50" y1="331.90" x2="30.00" y2="331.90" stroke="#1a1a1a" stroke-width="1.0"/>
<text x="25.00" y="335.70" font-size="8.2" text-anchor="end" fill="#333" stroke="#333" stroke-width="0.25" textLength="4.6" lengthAdjust="spacingAndGlyphs">0</text>
<line x1="26.50" y1="309.30" x2="30.00" y2="309.30" stroke="#1a1a1a" stroke-width="1.0"/>
<text x="25.00" y="312.20" font-size="8.2" text-anchor="end" fill="#333" stroke="#333" stroke-width="0.25" textLength="11.6" lengthAdjust="spacingAndGlyphs">0.1</text>
<line x1="26.50" y1="286.70" x2="30.00" y2="286.70" stroke="#1a1a1a" stroke-width="1.0"/>
<text x="25.00" y="289.60" font-size="8.2" text-anchor="end" fill="#333" stroke="#333" stroke-width="0.25" textLength="11.6" lengthAdjust="spacingAndGlyphs">0.2</text>
<line x1="26.50" y1="264.10" x2="30.00" y2="264.10" stroke="#1a1a1a" stroke-width="1.0"/>
<text x="25.00" y="267.00" font-size="8.2" text-anchor="end" fill="#333" stroke="#333" stroke-width="0.25" textLength="11.6" lengthAdjust="spacingAndGlyphs">0.3</text>
<line x1="26.50" y1="241.50" x2="30.00" y2="241.50" stroke="#1a1a1a" stroke-width="1.0"/>
<text x="25.00" y="244.40" font-size="8.2" text-anchor="end" fill="#333" stroke="#333" stroke-width="0.25" textLength="11.6" lengthAdjust="spacingAndGlyphs">0.4</text>
<line x1="26.50" y1="218.90" x2="30.00" y2="218.90" stroke="#1a1a1a" stroke-width="1.0"/>
<text x="25.00" y="221.80" font-size="8.2" text-anchor="end" fill="#333" stroke="#333" stroke-width="0.25" textLength="11.6" lengthAdjust="spacingAndGlyphs">0.5</text>
<line x1="27.40" y1="320.60" x2="30.00" y2="320.60" stroke="#1a1a1a" stroke-width="1.0"/>
<line x1="27.40" y1="298.00" x2="30.00" y2="298.00" stroke="#1a1a1a" stroke-width="1.0"/>
<line x1="27.40" y1="275.40" x2="30.00" y2="275.40" stroke="#1a1a1a" stroke-width="1.0"/>
<line x1="27.40" y1="252.80" x2="30.00" y2="252.80" stroke="#1a1a1a" stroke-width="1.0"/>
<line x1="27.40" y1="230.20" x2="30.00" y2="230.20" stroke="#1a1a1a" stroke-width="1.0"/>
<line x1="29.90" y1="331.90" x2="29.90" y2="335.10" stroke="#1a1a1a" stroke-width="1.0"/>
<text x="29.90" y="344.20" font-size="8.2" text-anchor="middle" fill="#333" stroke="#333" stroke-width="0.25" textLength="4.8" lengthAdjust="spacingAndGlyphs">0</text>
<line x1="47.35" y1="331.90" x2="47.35" y2="335.10" stroke="#1a1a1a" stroke-width="1.0"/>
<line x1="64.80" y1="331.90" x2="64.80" y2="335.10" stroke="#1a1a1a" stroke-width="1.0"/>
<text x="64.80" y="344.20" font-size="8.2" text-anchor="middle" fill="#333" stroke="#333" stroke-width="0.25" textLength="13.5" lengthAdjust="spacingAndGlyphs">200</text>
<line x1="82.25" y1="331.90" x2="82.25" y2="335.10" stroke="#1a1a1a" stroke-width="1.0"/>
<line x1="99.70" y1="331.90" x2="99.70" y2="335.10" stroke="#1a1a1a" stroke-width="1.0"/>
<text x="99.70" y="344.20" font-size="8.2" text-anchor="middle" fill="#333" stroke="#333" stroke-width="0.25" textLength="13.5" lengthAdjust="spacingAndGlyphs">400</text>
<line x1="117.15" y1="331.90" x2="117.15" y2="335.10" stroke="#1a1a1a" stroke-width="1.0"/>
<line x1="134.60" y1="331.90" x2="134.60" y2="335.10" stroke="#1a1a1a" stroke-width="1.0"/>
<text x="134.60" y="344.20" font-size="8.2" text-anchor="middle" fill="#333" stroke="#333" stroke-width="0.25" textLength="13.5" lengthAdjust="spacingAndGlyphs">600</text>
<line x1="152.05" y1="331.90" x2="152.05" y2="335.10" stroke="#1a1a1a" stroke-width="1.0"/>
<line x1="169.50" y1="331.90" x2="169.50" y2="335.10" stroke="#1a1a1a" stroke-width="1.0"/>
<text x="169.50" y="344.20" font-size="8.2" text-anchor="middle" fill="#333" stroke="#333" stroke-width="0.25" textLength="13.5" lengthAdjust="spacingAndGlyphs">800</text>
<text x="100.00" y="353.60" font-size="8.9" text-anchor="middle" fill="#333" stroke="#333" stroke-width="0.15" textLength="50.0" lengthAdjust="spacingAndGlyphs">Lactate [AU]</text>
<text x="0" y="0" font-size="8.3" fill="#222" stroke="#222" stroke-width="0.15" transform="translate(10.9,268) rotate(-90)" text-anchor="middle" textLength="45.5" lengthAdjust="spacingAndGlyphs">Lac-Phe [AU]</text>
<text x="39.70" y="221.70" font-size="8.3" text-anchor="start" fill="#111" stroke="#111" stroke-width="0.15" textLength="33.3" lengthAdjust="spacingAndGlyphs">R<tspan dy="-2.8" font-size="5.2">2</tspan><tspan dy="2.8"> = 0.82</tspan></text>
<text x="39.70" y="230.70" font-size="8.3" text-anchor="start" fill="#111" stroke="#111" stroke-width="0.15" textLength="42.3" lengthAdjust="spacingAndGlyphs">Beta = 0.91</text>
<text x="39.70" y="239.50" font-size="8.3" text-anchor="start" fill="#111" stroke="#111" stroke-width="0.15" textLength="38.8" lengthAdjust="spacingAndGlyphs">p &lt; 0.0001</text>
<circle cx="48.10" cy="303.70" r="1.95" fill="#7a7a7a"/>
<circle cx="46.10" cy="307.80" r="1.95" fill="#7a7a7a"/>
<circle cx="49.60" cy="311.70" r="1.95" fill="#7a7a7a"/>
<circle cx="55.60" cy="311.00" r="1.95" fill="#7a7a7a"/>
<circle cx="44.70" cy="314.70" r="1.95" fill="#7a7a7a"/>
<circle cx="52.00" cy="315.60" r="1.95" fill="#7a7a7a"/>
<circle cx="60.30" cy="315.60" r="1.95" fill="#7a7a7a"/>
<circle cx="61.80" cy="315.60" r="1.95" fill="#7a7a7a"/>
<circle cx="43.70" cy="321.00" r="1.95" fill="#7a7a7a"/>
<circle cx="44.70" cy="322.50" r="1.95" fill="#7a7a7a"/>
<circle cx="49.60" cy="297.70" r="1.95" fill="#7a7a7a"/>
<circle cx="48.10" cy="328.40" r="1.95" fill="#0a0a0a"/>
<circle cx="67.20" cy="304.10" r="1.95" fill="#0a0a0a"/>
<circle cx="51.50" cy="306.70" r="1.95" fill="#0a0a0a"/>
<circle cx="56.40" cy="306.80" r="1.95" fill="#0a0a0a"/>
<circle cx="47.60" cy="309.60" r="1.95" fill="#0a0a0a"/>
<circle cx="42.20" cy="313.70" r="1.95" fill="#0a0a0a"/>
<circle cx="54.00" cy="315.20" r="1.95" fill="#0a0a0a"/>
<circle cx="39.30" cy="317.60" r="1.95" fill="#0a0a0a"/>
<circle cx="45.60" cy="318.10" r="1.95" fill="#0a0a0a"/>
<circle cx="50.50" cy="318.60" r="1.95" fill="#0a0a0a"/>
<circle cx="57.90" cy="317.60" r="1.95" fill="#0a0a0a"/>
<circle cx="47.90" cy="295.40" r="1.95" fill="#0a0a0a"/>
<circle cx="44.70" cy="317.50" r="1.95" fill="#0a0a0a"/>
<circle cx="127.30" cy="210.10" r="1.95" fill="#ff8498"/>
<circle cx="158.30" cy="225.70" r="1.95" fill="#ff8498"/>
<circle cx="98.40" cy="271.90" r="1.95" fill="#ff8498"/>
<circle cx="82.30" cy="271.00" r="1.95" fill="#ff8498"/>
<circle cx="61.60" cy="274.90" r="1.95" fill="#ff8498"/>
<circle cx="60.40" cy="277.70" r="1.95" fill="#ff8498"/>
<circle cx="89.60" cy="277.70" r="1.95" fill="#ff8498"/>
<circle cx="101.70" cy="276.60" r="1.95" fill="#ff8498"/>
<circle cx="79.60" cy="280.50" r="1.95" fill="#ff8498"/>
<circle cx="100.90" cy="285.30" r="1.95" fill="#ff8498"/>
<circle cx="76.80" cy="288.90" r="1.95" fill="#ff8498"/>
<circle cx="66.20" cy="287.50" r="1.95" fill="#ff8498"/>
<circle cx="73.30" cy="289.60" r="1.95" fill="#ff8498"/>
<circle cx="55.10" cy="286.50" r="1.95" fill="#ff8498"/>
<circle cx="53.00" cy="292.10" r="1.95" fill="#ff8498"/>
<circle cx="64.60" cy="291.60" r="1.95" fill="#ff8498"/>
<circle cx="55.80" cy="299.30" r="1.95" fill="#ff8498"/>
<circle cx="54.40" cy="301.40" r="1.95" fill="#ff8498"/>
<circle cx="54.90" cy="300.50" r="1.95" fill="#ff8498"/>
<circle cx="99.10" cy="215.50" r="1.95" fill="#f00012"/>
<circle cx="138.30" cy="213.70" r="1.95" fill="#f00012"/>
<circle cx="110.70" cy="245.40" r="1.95" fill="#f00012"/>
<circle cx="108.10" cy="253.10" r="1.95" fill="#f00012"/>
<circle cx="102.50" cy="258.10" r="1.95" fill="#f00012"/>
<circle cx="100.40" cy="265.50" r="1.95" fill="#f00012"/>
<circle cx="101.70" cy="270.50" r="1.95" fill="#f00012"/>
<circle cx="94.20" cy="269.70" r="1.95" fill="#f00012"/>
<circle cx="85.10" cy="268.60" r="1.95" fill="#f00012"/>
<circle cx="83.00" cy="274.20" r="1.95" fill="#f00012"/>
<circle cx="76.10" cy="270.40" r="1.95" fill="#f00012"/>
<circle cx="66.60" cy="274.20" r="1.95" fill="#f00012"/>
<circle cx="75.40" cy="280.90" r="1.95" fill="#f00012"/>
<circle cx="71.20" cy="282.70" r="1.95" fill="#f00012"/>
<circle cx="66.50" cy="284.00" r="1.95" fill="#f00012"/>
<circle cx="81.00" cy="282.60" r="1.95" fill="#f00012"/>
<circle cx="71.20" cy="288.20" r="1.95" fill="#f00012"/>
<circle cx="83.00" cy="289.60" r="1.95" fill="#f00012"/>
<circle cx="74.40" cy="295.10" r="1.95" fill="#f00012"/>
<circle cx="60.00" cy="297.20" r="1.95" fill="#f00012"/>
<circle cx="78.90" cy="281.20" r="1.95" fill="#f00012"/>
<line x1="30.00" y1="330.00" x2="156.00" y2="207.40" stroke="#ee2a3a" stroke-width="1.5"/>
<rect x="94.4" y="295.2" width="74.3" height="36.6" fill="#fff" stroke="#333" stroke-width="0.8"/>
<circle cx="98.40" cy="300.50" r="2.2" fill="#0a0a0a"/>
<text x="103.10" y="303.60" font-size="9.0" text-anchor="start" fill="#111" stroke="#111" stroke-width="0.15" textLength="59.5" lengthAdjust="spacingAndGlyphs">Pre-trn, resting</text>
<circle cx="98.40" cy="308.97" r="2.2" fill="#a8a8a8"/>
<text x="103.10" y="312.07" font-size="9.0" text-anchor="start" fill="#111" stroke="#111" stroke-width="0.15" textLength="64.6" lengthAdjust="spacingAndGlyphs">Post-trn, resting</text>
<circle cx="98.40" cy="317.44" r="2.2" fill="#f00012"/>
<text x="103.10" y="320.54" font-size="9.0" text-anchor="start" fill="#111" stroke="#111" stroke-width="0.15" textLength="55.0" lengthAdjust="spacingAndGlyphs">Pre-trn, acute</text>
<circle cx="98.40" cy="325.91" r="2.2" fill="#ff9fa8"/>
<text x="103.10" y="329.01" font-size="9.0" text-anchor="start" fill="#111" stroke="#111" stroke-width="0.15" textLength="59.2" lengthAdjust="spacingAndGlyphs">Post-trn, acute</text>
<path d="M218.40,228.95 L221.84,231.00 L225.27,233.05 L228.71,235.07 L232.14,237.08 L235.58,239.06 L239.01,241.01 L242.44,242.94 L245.88,244.84 L249.31,246.69 L252.75,248.51 L256.19,250.28 L259.62,251.99 L263.06,253.65 L266.49,255.25 L269.93,256.78 L273.36,258.24 L276.80,259.63 L280.23,260.95 L283.67,262.19 L287.10,263.37 L290.54,264.48 L293.97,265.53 L297.41,266.53 L300.84,267.48 L304.27,268.38 L307.71,269.24 L311.14,270.07 L314.58,270.87 L318.01,271.64 L321.45,272.38 L324.88,273.11 L328.32,273.81 L331.75,274.50 L335.19,275.18 L338.62,275.84 L342.06,276.49 L345.50,277.13 L348.93,277.76 L352.37,278.38 L355.80,278.99 L355.80,323.25 L352.37,321.13 L348.93,319.01 L345.50,316.90 L342.06,314.80 L338.62,312.72 L335.19,310.64 L331.75,308.57 L328.32,306.52 L324.88,304.49 L321.45,302.48 L318.01,300.48 L314.58,298.52 L311.14,296.57 L307.71,294.66 L304.27,292.79 L300.84,290.95 L297.41,289.16 L293.97,287.42 L290.54,285.73 L287.10,284.11 L283.67,282.55 L280.23,281.05 L276.80,279.63 L273.36,278.28 L269.93,277.00 L266.49,275.80 L263.06,274.65 L259.62,273.57 L256.19,272.55 L252.75,271.58 L249.31,270.66 L245.88,269.78 L242.44,268.94 L239.01,268.12 L235.58,267.34 L232.14,266.59 L228.71,265.85 L225.27,265.14 L221.84,264.44 L218.40,263.76 Z" fill="#ffd2d4"/>
<line x1="218.40" y1="246.35" x2="355.80" y2="301.12" stroke="#ee2a3a" stroke-width="1.5"/>
<circle cx="251.90" cy="218.10" r="1.85" fill="#050505"/>
<circle cx="235.30" cy="250.00" r="1.85" fill="#050505"/>
<circle cx="247.80" cy="249.30" r="1.85" fill="#050505"/>
<circle cx="266.30" cy="246.60" r="1.85" fill="#050505"/>
<circle cx="263.60" cy="256.50" r="1.85" fill="#050505"/>
<circle cx="229.40" cy="262.60" r="1.85" fill="#050505"/>
<circle cx="261.20" cy="264.80" r="1.85" fill="#050505"/>
<circle cx="267.40" cy="283.20" r="1.85" fill="#050505"/>
<circle cx="263.60" cy="288.90" r="1.85" fill="#050505"/>
<circle cx="247.30" cy="292.80" r="1.85" fill="#050505"/>
<circle cx="279.60" cy="254.20" r="1.85" fill="#050505"/>
<circle cx="286.00" cy="256.50" r="1.85" fill="#050505"/>
<circle cx="288.80" cy="257.60" r="1.85" fill="#050505"/>
<circle cx="286.50" cy="271.70" r="1.85" fill="#050505"/>
<circle cx="279.90" cy="274.40" r="1.85" fill="#050505"/>
<circle cx="304.30" cy="278.70" r="1.85" fill="#050505"/>
<circle cx="319.50" cy="276.20" r="1.85" fill="#050505"/>
<circle cx="310.10" cy="293.60" r="1.85" fill="#050505"/>
<circle cx="293.40" cy="302.90" r="1.85" fill="#050505"/>
<circle cx="350.20" cy="285.20" r="1.85" fill="#050505"/>
<circle cx="349.10" cy="321.60" r="1.85" fill="#050505"/>
<line x1="218.40" y1="208.50" x2="218.40" y2="335.20" stroke="#1a1a1a" stroke-width="1.5"/>
<line x1="215.80" y1="208.70" x2="219.15" y2="208.70" stroke="#1a1a1a" stroke-width="1.1"/>
<line x1="218.40" y1="332.00" x2="356.30" y2="332.00" stroke="#1a1a1a" stroke-width="1.5"/>
<line x1="214.90" y1="316.26" x2="218.40" y2="316.26" stroke="#1a1a1a" stroke-width="1.0"/>
<text x="213.80" y="319.16" font-size="8.2" text-anchor="end" fill="#333" stroke="#333" stroke-width="0.25" textLength="14.0" lengthAdjust="spacingAndGlyphs">-0.2</text>
<line x1="214.90" y1="300.94" x2="218.40" y2="300.94" stroke="#1a1a1a" stroke-width="1.0"/>
<line x1="214.90" y1="285.63" x2="218.40" y2="285.63" stroke="#1a1a1a" stroke-width="1.0"/>
<text x="213.80" y="288.53" font-size="8.2" text-anchor="end" fill="#333" stroke="#333" stroke-width="0.25" textLength="14.0" lengthAdjust="spacingAndGlyphs">-0.1</text>
<line x1="214.90" y1="270.31" x2="218.40" y2="270.31" stroke="#1a1a1a" stroke-width="1.0"/>
<line x1="214.90" y1="255.00" x2="218.40" y2="255.00" stroke="#1a1a1a" stroke-width="1.0"/>
<text x="213.80" y="257.90" font-size="8.2" text-anchor="end" fill="#333" stroke="#333" stroke-width="0.25" textLength="11.5" lengthAdjust="spacingAndGlyphs">0.0</text>
<line x1="214.90" y1="239.69" x2="218.40" y2="239.69" stroke="#1a1a1a" stroke-width="1.0"/>
<line x1="214.90" y1="224.37" x2="218.40" y2="224.37" stroke="#1a1a1a" stroke-width="1.0"/>
<text x="213.80" y="227.27" font-size="8.2" text-anchor="end" fill="#333" stroke="#333" stroke-width="0.25" textLength="11.5" lengthAdjust="spacingAndGlyphs">0.1</text>
<line x1="218.40" y1="332.00" x2="218.40" y2="335.20" stroke="#1a1a1a" stroke-width="1.0"/>
<text x="218.40" y="344.20" font-size="8.2" text-anchor="middle" fill="#333" stroke="#333" stroke-width="0.25" textLength="6.9" lengthAdjust="spacingAndGlyphs">-2</text>
<line x1="238.00" y1="332.00" x2="238.00" y2="335.20" stroke="#1a1a1a" stroke-width="1.0"/>
<line x1="257.60" y1="332.00" x2="257.60" y2="335.20" stroke="#1a1a1a" stroke-width="1.0"/>
<text x="257.60" y="344.20" font-size="8.2" text-anchor="middle" fill="#333" stroke="#333" stroke-width="0.25" textLength="14.0" lengthAdjust="spacingAndGlyphs">-1.6</text>
<line x1="277.20" y1="332.00" x2="277.20" y2="335.20" stroke="#1a1a1a" stroke-width="1.0"/>
<line x1="296.80" y1="332.00" x2="296.80" y2="335.20" stroke="#1a1a1a" stroke-width="1.0"/>
<text x="296.80" y="344.20" font-size="8.2" text-anchor="middle" fill="#333" stroke="#333" stroke-width="0.25" textLength="14.0" lengthAdjust="spacingAndGlyphs">-1.2</text>
<line x1="316.40" y1="332.00" x2="316.40" y2="335.20" stroke="#1a1a1a" stroke-width="1.0"/>
<line x1="336.00" y1="332.00" x2="336.00" y2="335.20" stroke="#1a1a1a" stroke-width="1.0"/>
<text x="336.00" y="344.20" font-size="8.2" text-anchor="middle" fill="#333" stroke="#333" stroke-width="0.25" textLength="14.0" lengthAdjust="spacingAndGlyphs">-0.8</text>
<line x1="355.60" y1="332.00" x2="355.60" y2="335.20" stroke="#1a1a1a" stroke-width="1.0"/>
<text x="217.00" y="353.40" font-size="8.9" text-anchor="start" fill="#333" stroke="#333" stroke-width="0.15" textLength="140.0" lengthAdjust="spacingAndGlyphs">Lac-Phe acute pre-training [log AU]</text>
<text x="300.00" y="220.60" font-size="8.3" text-anchor="start" fill="#111" stroke="#111" stroke-width="0.15" textLength="33.5" lengthAdjust="spacingAndGlyphs">R<tspan dy="-2.8" font-size="5.2">2</tspan><tspan dy="2.8"> = 0.34</tspan></text>
<text x="300.00" y="229.80" font-size="8.3" text-anchor="start" fill="#111" stroke="#111" stroke-width="0.15" textLength="47.2" lengthAdjust="spacingAndGlyphs">Beta = −0.59</text>
<text x="300.00" y="239.10" font-size="8.3" text-anchor="start" fill="#111" stroke="#111" stroke-width="0.15" textLength="34.7" lengthAdjust="spacingAndGlyphs">p = 0.004</text>
<text x="0" y="0" font-size="8.3" fill="#333" stroke="#333" stroke-width="0.05" transform="translate(188.70,274.8) rotate(-90)" text-anchor="middle" textLength="116" lengthAdjust="spacingAndGlyphs">Subcutaneous adipose tissue</text>
<text x="0" y="0" font-size="8.3" fill="#333" stroke="#333" stroke-width="0.05" transform="translate(197.80,273.8) rotate(-90)" text-anchor="middle" textLength="67" lengthAdjust="spacingAndGlyphs">[log fold change]</text>
<path d="M402.50,221.09 L405.93,223.65 L409.37,226.19 L412.80,228.71 L416.23,231.22 L419.66,233.69 L423.09,236.14 L426.53,238.56 L429.96,240.94 L433.39,243.27 L436.82,245.55 L440.26,247.77 L443.69,249.92 L447.12,251.98 L450.56,253.97 L453.99,255.85 L457.42,257.63 L460.85,259.30 L464.28,260.86 L467.72,262.32 L471.15,263.67 L474.58,264.94 L478.01,266.12 L481.45,267.22 L484.88,268.26 L488.31,269.24 L491.75,270.17 L495.18,271.07 L498.61,271.92 L502.04,272.74 L505.47,273.54 L508.91,274.31 L512.34,275.07 L515.77,275.81 L519.20,276.53 L522.64,277.24 L526.07,277.93 L529.50,278.62 L532.93,279.30 L536.37,279.97 L539.80,280.63 L539.80,334.58 L536.37,331.96 L532.93,329.34 L529.50,326.73 L526.07,324.13 L522.64,321.53 L519.20,318.95 L515.77,316.39 L512.34,313.84 L508.91,311.30 L505.47,308.79 L502.04,306.30 L498.61,303.83 L495.18,301.40 L491.75,299.00 L488.31,296.65 L484.88,294.34 L481.45,292.09 L478.01,289.91 L474.58,287.80 L471.15,285.77 L467.72,283.84 L464.28,282.01 L460.85,280.28 L457.42,278.67 L453.99,277.16 L450.56,275.75 L447.12,274.44 L443.69,273.22 L440.26,272.08 L436.82,271.01 L433.39,270.00 L429.96,269.05 L426.53,268.14 L423.09,267.26 L419.66,266.43 L416.23,265.62 L412.80,264.83 L409.37,264.07 L405.93,263.32 L402.50,262.59 Z" fill="#ffd2d4"/>
<line x1="402.50" y1="241.84" x2="539.80" y2="307.61" stroke="#ee2a3a" stroke-width="1.5"/>
<circle cx="442.20" cy="217.90" r="1.85" fill="#050505"/>
<circle cx="421.50" cy="246.30" r="1.85" fill="#050505"/>
<circle cx="446.00" cy="249.60" r="1.85" fill="#050505"/>
<circle cx="453.80" cy="249.20" r="1.85" fill="#050505"/>
<circle cx="446.20" cy="256.40" r="1.85" fill="#050505"/>
<circle cx="451.90" cy="262.20" r="1.85" fill="#050505"/>
<circle cx="427.50" cy="264.20" r="1.85" fill="#050505"/>
<circle cx="442.30" cy="272.10" r="1.85" fill="#050505"/>
<circle cx="444.50" cy="272.50" r="1.85" fill="#050505"/>
<circle cx="466.20" cy="254.30" r="1.85" fill="#050505"/>
<circle cx="474.00" cy="256.60" r="1.85" fill="#050505"/>
<circle cx="465.20" cy="274.10" r="1.85" fill="#050505"/>
<circle cx="476.40" cy="278.80" r="1.85" fill="#050505"/>
<circle cx="469.90" cy="283.10" r="1.85" fill="#050505"/>
<circle cx="474.80" cy="288.70" r="1.85" fill="#050505"/>
<circle cx="467.30" cy="293.30" r="1.85" fill="#050505"/>
<circle cx="446.20" cy="285.20" r="1.85" fill="#050505"/>
<circle cx="451.20" cy="292.80" r="1.85" fill="#050505"/>
<circle cx="461.20" cy="303.10" r="1.85" fill="#050505"/>
<circle cx="518.40" cy="276.10" r="1.85" fill="#050505"/>
<circle cx="529.10" cy="321.30" r="1.85" fill="#050505"/>
<line x1="402.50" y1="208.50" x2="402.50" y2="335.20" stroke="#1a1a1a" stroke-width="1.5"/>
<line x1="399.90" y1="208.70" x2="403.25" y2="208.70" stroke="#1a1a1a" stroke-width="1.1"/>
<line x1="402.50" y1="332.00" x2="539.60" y2="332.00" stroke="#1a1a1a" stroke-width="1.5"/>
<line x1="399.00" y1="316.26" x2="402.50" y2="316.26" stroke="#1a1a1a" stroke-width="1.0"/>
<text x="397.90" y="319.16" font-size="8.2" text-anchor="end" fill="#333" stroke="#333" stroke-width="0.25" textLength="14.0" lengthAdjust="spacingAndGlyphs">-0.2</text>
<line x1="399.00" y1="300.94" x2="402.50" y2="300.94" stroke="#1a1a1a" stroke-width="1.0"/>
<line x1="399.00" y1="285.63" x2="402.50" y2="285.63" stroke="#1a1a1a" stroke-width="1.0"/>
<text x="397.90" y="288.53" font-size="8.2" text-anchor="end" fill="#333" stroke="#333" stroke-width="0.25" textLength="14.0" lengthAdjust="spacingAndGlyphs">-0.1</text>
<line x1="399.00" y1="270.31" x2="402.50" y2="270.31" stroke="#1a1a1a" stroke-width="1.0"/>
<line x1="399.00" y1="255.00" x2="402.50" y2="255.00" stroke="#1a1a1a" stroke-width="1.0"/>
<text x="397.90" y="257.90" font-size="8.2" text-anchor="end" fill="#333" stroke="#333" stroke-width="0.25" textLength="11.5" lengthAdjust="spacingAndGlyphs">0.0</text>
<line x1="399.00" y1="239.69" x2="402.50" y2="239.69" stroke="#1a1a1a" stroke-width="1.0"/>
<line x1="399.00" y1="224.37" x2="402.50" y2="224.37" stroke="#1a1a1a" stroke-width="1.0"/>
<text x="397.90" y="227.27" font-size="8.2" text-anchor="end" fill="#333" stroke="#333" stroke-width="0.25" textLength="11.5" lengthAdjust="spacingAndGlyphs">0.1</text>
<line x1="402.42" y1="332.00" x2="402.42" y2="335.20" stroke="#1a1a1a" stroke-width="1.0"/>
<line x1="421.90" y1="332.00" x2="421.90" y2="335.20" stroke="#1a1a1a" stroke-width="1.0"/>
<text x="421.90" y="344.20" font-size="8.2" text-anchor="middle" fill="#333" stroke="#333" stroke-width="0.25" textLength="14.0" lengthAdjust="spacingAndGlyphs">-2.0</text>
<line x1="441.38" y1="332.00" x2="441.38" y2="335.20" stroke="#1a1a1a" stroke-width="1.0"/>
<line x1="460.85" y1="332.00" x2="460.85" y2="335.20" stroke="#1a1a1a" stroke-width="1.0"/>
<text x="460.85" y="344.20" font-size="8.2" text-anchor="middle" fill="#333" stroke="#333" stroke-width="0.25" textLength="14.0" lengthAdjust="spacingAndGlyphs">-1.5</text>
<line x1="480.32" y1="332.00" x2="480.32" y2="335.20" stroke="#1a1a1a" stroke-width="1.0"/>
<line x1="499.80" y1="332.00" x2="499.80" y2="335.20" stroke="#1a1a1a" stroke-width="1.0"/>
<text x="499.80" y="344.20" font-size="8.2" text-anchor="middle" fill="#333" stroke="#333" stroke-width="0.25" textLength="14.0" lengthAdjust="spacingAndGlyphs">-1.0</text>
<line x1="519.27" y1="332.00" x2="519.27" y2="335.20" stroke="#1a1a1a" stroke-width="1.0"/>
<line x1="538.75" y1="332.00" x2="538.75" y2="335.20" stroke="#1a1a1a" stroke-width="1.0"/>
<text x="538.75" y="344.20" font-size="8.2" text-anchor="middle" fill="#333" stroke="#333" stroke-width="0.25" textLength="14.0" lengthAdjust="spacingAndGlyphs">-0.5</text>
<text x="402.00" y="353.40" font-size="8.9" text-anchor="start" fill="#333" stroke="#333" stroke-width="0.15" textLength="144.0" lengthAdjust="spacingAndGlyphs">Lac-Phe acute post-training [log AU]</text>
<text x="483.90" y="220.60" font-size="8.3" text-anchor="start" fill="#111" stroke="#111" stroke-width="0.15" textLength="33.5" lengthAdjust="spacingAndGlyphs">R<tspan dy="-2.8" font-size="5.2">2</tspan><tspan dy="2.8"> = 0.29</tspan></text>
<text x="483.90" y="229.80" font-size="8.3" text-anchor="start" fill="#111" stroke="#111" stroke-width="0.15" textLength="47.2" lengthAdjust="spacingAndGlyphs">Beta = −0.54</text>
<text x="483.90" y="239.10" font-size="8.3" text-anchor="start" fill="#111" stroke="#111" stroke-width="0.15" textLength="34.7" lengthAdjust="spacingAndGlyphs">p = 0.010</text>
<text x="0" y="0" font-size="8.3" fill="#333" stroke="#333" stroke-width="0.05" transform="translate(372.90,274.8) rotate(-90)" text-anchor="middle" textLength="116" lengthAdjust="spacingAndGlyphs">Subcutaneous adipose tissue</text>
<text x="0" y="0" font-size="8.3" fill="#333" stroke="#333" stroke-width="0.05" transform="translate(382.00,273.8) rotate(-90)" text-anchor="middle" textLength="67" lengthAdjust="spacingAndGlyphs">[log fold change]</text>
</svg>
</body></html>
